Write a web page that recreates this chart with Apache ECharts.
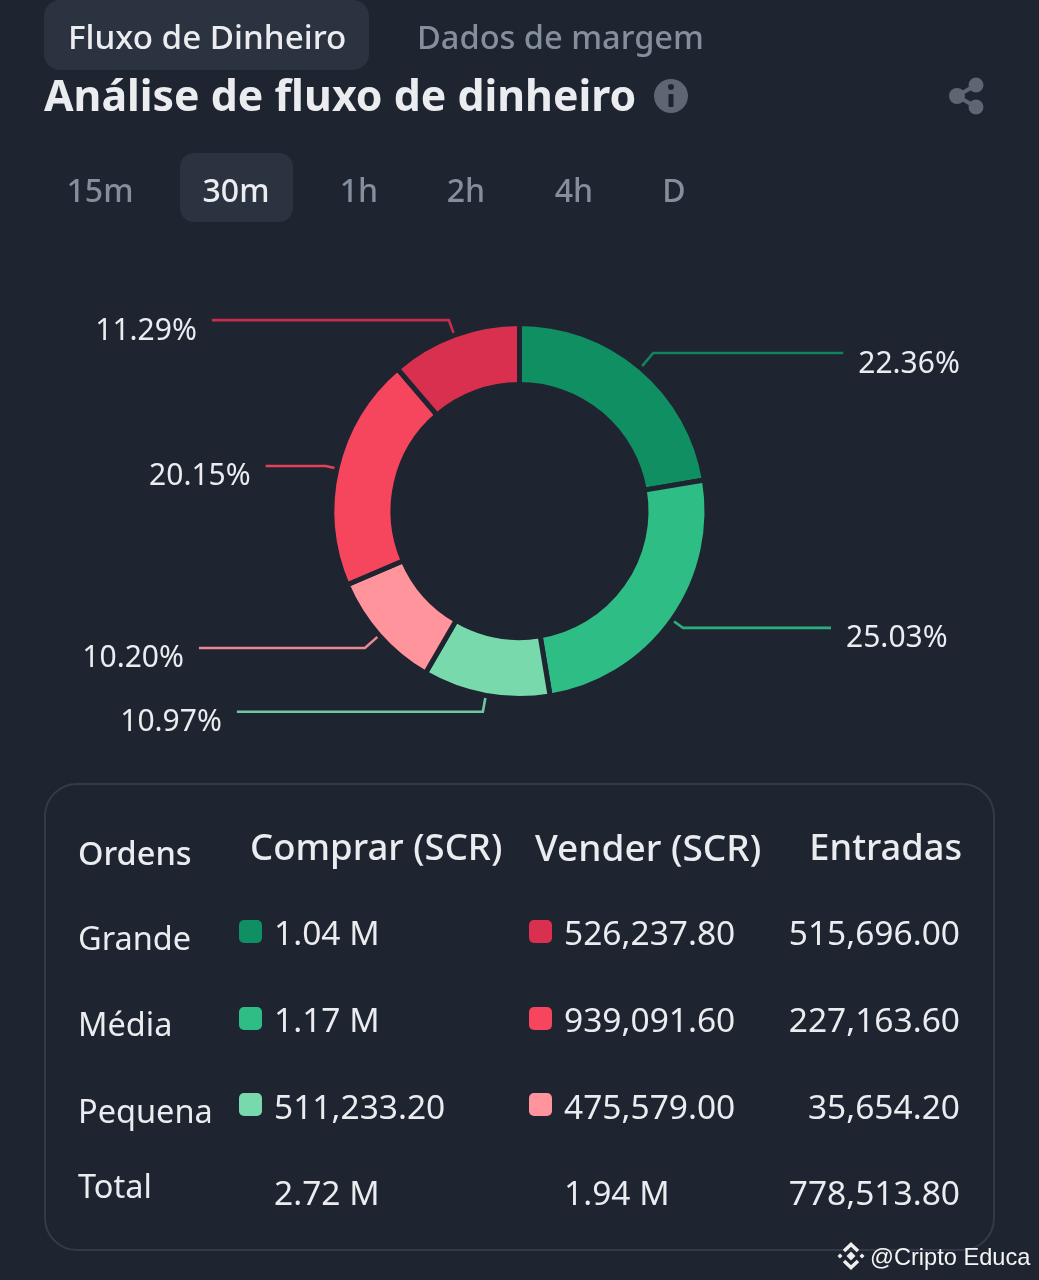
<!DOCTYPE html>
<html>
<head>
<meta charset="utf-8">
<style>html,body{margin:0;padding:0;background:#1e2430}#c{width:1039px;height:1280px}</style>
<script src="https://cdn.jsdelivr.net/npm/echarts@6/dist/echarts.min.js"></script>
</head>
<body>
<div id="c"></div>
<script>
// ---- data ----
var sliceNames = ['Compra grande','Compra média','Compra pequena','Venda pequena','Venda média','Venda grande'];
var slicePercents = [22.36, 25.03, 10.97, 10.20, 20.15, 11.29];
var sliceColors = ['#0f8f62','#2dbd85','#78d9ac','#ff949c','#f6465d','#da304f'];
var tabs = ['Fluxo de Dinheiro','Dados de margem'];
var intervals = ['15m','30m','1h','2h','4h','D'];
var title = 'Análise de fluxo de dinheiro';
var headers = ['Ordens','Comprar (SCR)','Vender (SCR)','Entradas'];
var rowNames = ['Grande','Média','Pequena','Total'];
var buyValues = ['1.04 M','1.17 M','511,233.20','2.72 M'];
var sellValues = ['526,237.80','939,091.60','475,579.00','1.94 M'];
var inflowValues = ['515,696.00','227,163.60','35,654.20','778,513.80'];
var watermark = '@Cripto Educa';

// ---- leader line lengths & layout (styling only) ----
var lineLen  = [19.5, 13.5, 16.5, 19, 11.5, 16];
var lineLen2 = [190, 148, 246, 166, 60, 237];
var FONT = '"Noto Sans", sans-serif';
var WHITE = '#eaecef', GREY = '#848e9c', PANEL = '#2b3240', BG = '#1e2430';

function txt(s, x, y, size, color, weight, align, family){
  return {type:'text', silent:true, x:x, y:y, style:{text:s, fill:color, font:(weight||400)+' '+size+'px '+(family||FONT), textAlign:align||'left', textVerticalAlign:'middle'}};
}
function rrect(x,y,w,h,r,fill,stroke,lw){
  return {type:'rect', silent:true, shape:{x:x,y:y,width:w,height:h,r:r}, style:{fill:fill||'transparent', stroke:stroke||null, lineWidth:lw||0}};
}
var g = [];
// tabs
g.push(rrect(44,0,325,70,16,PANEL));
g.push(txt(tabs[0],68,40,33.2,WHITE,500));
g.push(txt(tabs[1],417,40,32.6,GREY,500));
// title
g.push(txt(title,44,98.5,42.8,WHITE,700));
// info icon
g.push({type:'circle',silent:true,shape:{cx:671,cy:96,r:17},style:{fill:'#5e6673'}});
g.push(rrect(668.5,94,5,13,1,BG));
g.push({type:'circle',silent:true,shape:{cx:671,cy:87,r:3},style:{fill:BG}});
// share icon
[[957,96,8],[976,85,7.5],[976,107,7.5]].forEach(function(c){
  g.push({type:'circle',silent:true,shape:{cx:c[0],cy:c[1],r:c[2]},style:{fill:'#5e6673'}});
});
g.push({type:'polyline',silent:true,shape:{points:[[976,85],[957,96],[976,107]]},style:{fill:null,stroke:'#5e6673',lineWidth:4}});
// interval buttons
g.push(rrect(180,153,113,69,14,PANEL));
var intervalX = [100,236,359,466,574,674];
intervals.forEach(function(s,i){
  g.push(txt(s,intervalX[i],193,32,i===1?WHITE:GREY,500,'center'));
});
// table box
g.push(rrect(45,784,949,466,32,null,'#343b48',2));
// header
g.push(txt(headers[0],78,856,32.5,WHITE,500));
g.push(txt(headers[1],250,850,36.5,WHITE,500));
g.push(txt(headers[2],535,850,37,WHITE,500));
g.push(txt(headers[3],962,850,36.2,WHITE,500,'right'));
// rows
var nameY = [941,1027,1114,1189], valY = [935,1022,1109,1195], swY = [920,1007,1093];
rowNames.forEach(function(s,i){
  g.push(txt(s,78,nameY[i],32.5,WHITE,400));
  g.push(txt(buyValues[i],274,valY[i],33.5,WHITE,400));
  g.push(txt(sellValues[i],564,valY[i],33.5,WHITE,400));
  g.push(txt(inflowValues[i],960,valY[i],33.5,WHITE,400,'right'));
  if(i<3){
    g.push(rrect(239,swY[i],23,23,5,sliceColors[i]));
    g.push(rrect(529,swY[i],23,23,5,sliceColors[5-i]));
  }
});
// watermark logo
var LOGO = '#f0f0f0';
[[840,1256],[862,1256],[851,1256]].forEach(function(p,i){
  var s = i===2 ? 4.5 : 2.5;
  g.push({type:'polygon',silent:true,shape:{points:[[p[0],p[1]-s],[p[0]+s,p[1]],[p[0],p[1]+s],[p[0]-s,p[1]]]},style:{fill:LOGO}});
});
g.push({type:'polyline',silent:true,shape:{points:[[844,1251],[851,1244.5],[858,1251]]},style:{fill:null,stroke:LOGO,lineWidth:3.5}});
g.push({type:'polyline',silent:true,shape:{points:[[844,1261],[851,1267.5],[858,1261]]},style:{fill:null,stroke:LOGO,lineWidth:3.5}});
g.push(txt(watermark,870,1258,23.6,'#f5f5f5',400,'left','"Liberation Sans", sans-serif'));

var chart = echarts.init(document.getElementById('c'), null, {renderer:'canvas', width:1039, height:1280});
chart.setOption({
  backgroundColor: BG,
  animation: false,
  graphic: {elements: g},
  series: [{
    type: 'pie',
    silent: true,
    center: [519.5, 511],
    radius: [126.5, 187.5],
    startAngle: 90,
    clockwise: true,
    avoidLabelOverlap: false,
    itemStyle: {borderColor: BG, borderWidth: 5},
    label: {
      show: true,
      position: 'outside',
      distanceToLabelLine: 15,
      formatter: function(p){ return '{t|' + p.value.toFixed(2) + '%}'; },
      rich: {t: {color: WHITE, fontFamily: 'Noto Sans', fontSize: 30, padding: [22, 0, 0, 0]}}
    },
    labelLine: {show:true, minTurnAngle:0, maxSurfaceAngle:180, lineStyle:{width:2.6, opacity:0.9}},
    data: slicePercents.map(function(v,i){
      return {
        name: sliceNames[i], value: v,
        itemStyle: {color: sliceColors[i]},
        labelLine: {length: lineLen[i], length2: lineLen2[i]}
      };
    })
  }]
});
</script>
</body>
</html>
